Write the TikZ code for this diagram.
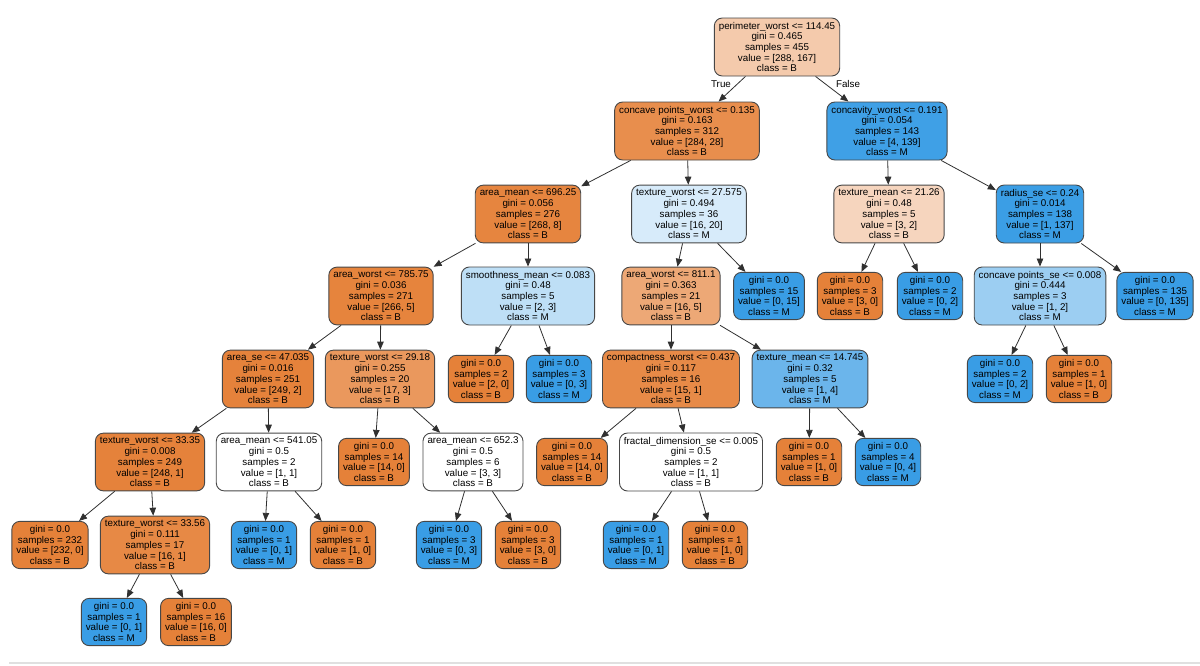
\documentclass[tikz,border=0pt]{standalone}
\usepackage{fontspec}
\setmainfont{Liberation Sans}
\usepackage{xcolor}
\usepackage{tikz}
\usetikzlibrary{arrows.meta}
\definecolor{ClassB}{HTML}{E58139}
\definecolor{ClassM}{HTML}{399DE5}
\definecolor{EdgeGray}{HTML}{303030}
\newcommand{\treenode}[4]{%
  \node[treebox, fill=#1, #4] (#2) {#3};}

\begin{document}
\begin{tikzpicture}[x=1pt, y=-1pt, >={Triangle[length=8pt,width=6.5pt]},
    treebox/.style={draw=black!72, line width=0.9pt, rounded corners=8pt,
      align=center, inner xsep=4.5pt, inner ysep=4pt,
      font=\fontsize{9.8}{10.7}\selectfont},
    edge/.style={->, draw=EdgeGray, line width=0.8pt},
    edgelabel/.style={font=\fontsize{9.8}{10.7}\selectfont, inner sep=0pt}]
    \useasboundingbox (0,0) rectangle (1200,665);
    % level 0 and 1
    \treenode{ClassB!42!white}{root}{perimeter\_worst <= 114.45\\gini = 0.465\\samples = 455\\value = [288, 167]\\class = B}{at={(777,47)}}
    \treenode{ClassB!90!white}{cpw}{concave points\_worst <= 0.135\\gini = 0.163\\samples = 312\\value = [284, 28]\\class = B}{at={(687,131)}}
    \treenode{ClassM!97!white}{cvw}{concavity\_worst <= 0.191\\gini = 0.054\\samples = 143\\value = [4, 139]\\class = M}{at={(887,131)}}
    % level 2
    \treenode{ClassB!97!white}{am1}{area\_mean <= 696.25\\gini = 0.056\\samples = 276\\value = [268, 8]\\class = B}{at={(528,214)}}
    \treenode{ClassM!20!white}{tw1}{texture\_worst <= 27.575\\gini = 0.494\\samples = 36\\value = [16, 20]\\class = M}{at={(689,214)}}
    \treenode{ClassB!33!white}{tm1}{texture\_mean <= 21.26\\gini = 0.48\\samples = 5\\value = [3, 2]\\class = B}{at={(889,214)}}
    \treenode{ClassM!99!white}{rse}{radius\_se <= 0.24\\gini = 0.014\\samples = 138\\value = [1, 137]\\class = M}{at={(1040,214)}}
    % level 3
    \treenode{ClassB!98!white}{aw1}{area\_worst <= 785.75\\gini = 0.036\\samples = 271\\value = [266, 5]\\class = B}{at={(381,296)}}
    \treenode{ClassM!33!white}{smm}{smoothness\_mean <= 0.083\\gini = 0.48\\samples = 5\\value = [2, 3]\\class = M}{at={(528,296)}}
    \treenode{ClassB!69!white}{aw2}{area\_worst <= 811.1\\gini = 0.363\\samples = 21\\value = [16, 5]\\class = B}{at={(671,296)}}
    \treenode{ClassM}{lf1}{gini = 0.0\\samples = 15\\value = [0, 15]\\class = M}{at={(769,296)}}
    \treenode{ClassB}{lf2}{gini = 0.0\\samples = 3\\value = [3, 0]\\class = B}{at={(850,296)}}
    \treenode{ClassM}{lf3}{gini = 0.0\\samples = 2\\value = [0, 2]\\class = M}{at={(930,296)}}
    \treenode{ClassM!50!white}{cpse}{concave points\_se <= 0.008\\gini = 0.444\\samples = 3\\value = [1, 2]\\class = M}{at={(1040,296)}}
    \treenode{ClassM}{lf4}{gini = 0.0\\samples = 135\\value = [0, 135]\\class = M}{at={(1155,296)}}
    % level 4
    \treenode{ClassB!99!white}{ase}{area\_se <= 47.035\\gini = 0.016\\samples = 251\\value = [249, 2]\\class = B}{at={(268,379)}}
    \treenode{ClassB!82!white}{tw2}{texture\_worst <= 29.18\\gini = 0.255\\samples = 20\\value = [17, 3]\\class = B}{at={(380,379)}}
    \treenode{ClassB}{lf5}{gini = 0.0\\samples = 2\\value = [2, 0]\\class = B}{at={(481,379)}}
    \treenode{ClassM}{lf6}{gini = 0.0\\samples = 3\\value = [0, 3]\\class = M}{at={(559,379)}}
    \treenode{ClassB!93!white}{cw}{compactness\_worst <= 0.437\\gini = 0.117\\samples = 16\\value = [15, 1]\\class = B}{at={(671,379)}}
    \treenode{ClassM!75!white}{tm2}{texture\_mean <= 14.745\\gini = 0.32\\samples = 5\\value = [1, 4]\\class = M}{at={(810,379)}}
    \treenode{ClassM}{lf7}{gini = 0.0\\samples = 2\\value = [0, 2]\\class = M}{at={(1000,379)}}
    \treenode{ClassB}{lf8}{gini = 0.0\\samples = 1\\value = [1, 0]\\class = B}{at={(1079,379)}}
    % level 5
    \treenode{ClassB!99!white}{tw3}{texture\_worst <= 33.35\\gini = 0.008\\samples = 249\\value = [248, 1]\\class = B}{at={(150,462)}}
    \treenode{white}{am2}{area\_mean <= 541.05\\gini = 0.5\\samples = 2\\value = [1, 1]\\class = B}{at={(269,462)}}
    \treenode{ClassB}{lf9}{gini = 0.0\\samples = 14\\value = [14, 0]\\class = B}{at={(374,462)}}
    \treenode{white}{am3}{area\_mean <= 652.3\\gini = 0.5\\samples = 6\\value = [3, 3]\\class = B}{at={(473,462)}}
    \treenode{ClassB}{lf10}{gini = 0.0\\samples = 14\\value = [14, 0]\\class = B}{at={(572,462)}}
    \treenode{white}{fds}{fractal\_dimension\_se <= 0.005\\gini = 0.5\\samples = 2\\value = [1, 1]\\class = B}{at={(691,462)}}
    \treenode{ClassB}{lf11}{gini = 0.0\\samples = 1\\value = [1, 0]\\class = B}{at={(809,462)}}
    \treenode{ClassM}{lf12}{gini = 0.0\\samples = 4\\value = [0, 4]\\class = M}{at={(888,462)}}
    % level 6
    \treenode{ClassB}{lf13}{gini = 0.0\\samples = 232\\value = [232, 0]\\class = B}{at={(50,545)}}
    \treenode{ClassB!94!white}{tw4}{texture\_worst <= 33.56\\gini = 0.111\\samples = 17\\value = [16, 1]\\class = B}{at={(155,545)}}
    \treenode{ClassM}{lf14}{gini = 0.0\\samples = 1\\value = [0, 1]\\class = M}{at={(264,545)}}
    \treenode{ClassB}{lf15}{gini = 0.0\\samples = 1\\value = [1, 0]\\class = B}{at={(343,545)}}
    \treenode{ClassM}{lf16}{gini = 0.0\\samples = 3\\value = [0, 3]\\class = M}{at={(449,545)}}
    \treenode{ClassB}{lf17}{gini = 0.0\\samples = 3\\value = [3, 0]\\class = B}{at={(528,545)}}
    \treenode{ClassM}{lf18}{gini = 0.0\\samples = 1\\value = [0, 1]\\class = M}{at={(636,545)}}
    \treenode{ClassB}{lf19}{gini = 0.0\\samples = 1\\value = [1, 0]\\class = B}{at={(715,545)}}
    % level 7
    \treenode{ClassM}{lf20}{gini = 0.0\\samples = 1\\value = [0, 1]\\class = M}{at={(114,622)}}
    \treenode{ClassB}{lf21}{gini = 0.0\\samples = 16\\value = [16, 0]\\class = B}{at={(196,622)}}
    % edge labels
    \node[edgelabel] (ltrue) at (721,84) {True};
    \node[edgelabel] (lfalse) at (848,84) {False};
    % edges
    \draw[edge] (root) -- (cpw);
    \draw[edge] (root) -- (cvw);
    \draw[edge] (cpw) -- (am1);
    \draw[edge] (cpw) -- (tw1);
    \draw[edge] (cvw) -- (tm1);
    \draw[edge] (cvw) -- (rse);
    \draw[edge] (am1) -- (aw1);
    \draw[edge] (am1) -- (smm);
    \draw[edge] (tw1) -- (aw2);
    \draw[edge] (tw1) -- (lf1);
    \draw[edge] (tm1) -- (lf2);
    \draw[edge] (tm1) -- (lf3);
    \draw[edge] (rse) -- (cpse);
    \draw[edge] (rse) -- (lf4);
    \draw[edge] (aw1) -- (ase);
    \draw[edge] (aw1) -- (tw2);
    \draw[edge] (smm) -- (lf5);
    \draw[edge] (smm) -- (lf6);
    \draw[edge] (aw2) -- (cw);
    \draw[edge] (aw2) -- (tm2);
    \draw[edge] (cpse) -- (lf7);
    \draw[edge] (cpse) -- (lf8);
    \draw[edge] (ase) -- (tw3);
    \draw[edge] (ase) -- (am2);
    \draw[edge] (tw2) -- (lf9);
    \draw[edge] (tw2) -- (am3);
    \draw[edge] (cw) -- (lf10);
    \draw[edge] (cw) -- (fds);
    \draw[edge] (tm2) -- (lf11);
    \draw[edge] (tm2) -- (lf12);
    \draw[edge] (tw3) -- (lf13);
    \draw[edge] (tw3) -- (tw4);
    \draw[edge] (am2) -- (lf14);
    \draw[edge] (am2) -- (lf15);
    \draw[edge] (am3) -- (lf16);
    \draw[edge] (am3) -- (lf17);
    \draw[edge] (fds) -- (lf18);
    \draw[edge] (fds) -- (lf19);
    \draw[edge] (tw4) -- (lf20);
    \draw[edge] (tw4) -- (lf21);
    % page rule at the bottom
    \draw[black!12, line width=1.2pt] (9,663) -- (1200,663);
  \end{tikzpicture}
\end{document}
